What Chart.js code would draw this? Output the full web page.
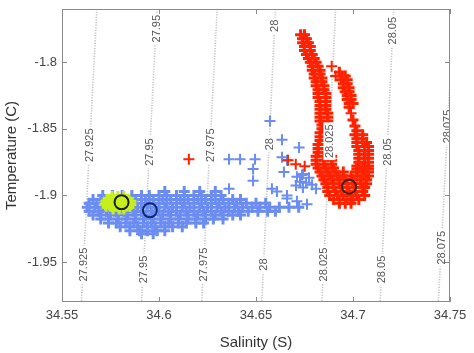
<!DOCTYPE html>
<html>
<head>
<meta charset="utf-8">
<script src="https://cdn.jsdelivr.net/npm/chart.js@4/dist/chart.umd.min.js"></script>
<style>
  html, body { margin: 0; padding: 0; background: #fff; }
  canvas { display: block; }
</style>
</head>
<body>
<canvas id="tsChart" width="474" height="353"></canvas>
<script>
// axis ticks
const xTicks = [34.55, 34.6, 34.65, 34.7, 34.75];
const xTickLabels = ['34.55', '34.6', '34.65', '34.7', '34.75'];
const yTicks = [-1.95, -1.9, -1.85, -1.8];
const yTickLabels = ['-1.95', '-1.9', '-1.85', '-1.8'];

// density contours (sigma), read where they leave the top and bottom of the box
const contourLevels = ['27.925', '27.95', '27.975', '28', '28.025', '28.05', '28.075'];
const contourTopS = [34.568, 34.599, 34.630, 34.660, 34.691, 34.721, 34.752];
const contourBottomS = [34.560, 34.591, 34.622, 34.653, 34.684, 34.714, 34.744];
const contourTopT = -1.76;
const contourBottomT = -1.98;
const contourLabelT = [
    [-1.8623, -1.9519],
    [-1.7748, -1.8674, -1.9556],
    [-1.8623, -1.9519],
    [-1.7726, -1.8615, -1.9519],
    [-1.8593, -1.9519],
    [-1.7763, -1.8674, -1.9556],
    [-1.8482, -1.9393]
];

// blue casts: main blob, row by row (temperature, salinities)
const blueRowT = [-1.8971, -1.9, -1.903, -1.9059, -1.9088, -1.9118, -1.9147, -1.9176, -1.9206, -1.9235, -1.9265, -1.9287];
const blueRowS = [
    [34.603, 34.613, 34.621, 34.629],
    [34.571, 34.576, 34.581, 34.586, 34.591, 34.595, 34.600, 34.604, 34.609, 34.613, 34.618, 34.622, 34.627, 34.632],
    [34.566, 34.570, 34.575, 34.579, 34.584, 34.588, 34.593, 34.597, 34.602, 34.606, 34.611, 34.615, 34.620, 34.624, 34.629, 34.633, 34.638, 34.642],
    [34.564, 34.568, 34.573, 34.577, 34.582, 34.586, 34.591, 34.595, 34.600, 34.604, 34.609, 34.613, 34.618, 34.622, 34.627, 34.631, 34.636, 34.640, 34.645, 34.650, 34.655],
    [34.563, 34.567, 34.571, 34.576, 34.580, 34.585, 34.589, 34.594, 34.598, 34.603, 34.607, 34.612, 34.616, 34.621, 34.625, 34.630, 34.634, 34.639, 34.643, 34.648, 34.652, 34.657, 34.662, 34.667, 34.672],
    [34.564, 34.569, 34.573, 34.578, 34.582, 34.587, 34.591, 34.596, 34.600, 34.605, 34.609, 34.614, 34.618, 34.623, 34.627, 34.632, 34.636, 34.641, 34.646, 34.651, 34.656, 34.660],
    [34.566, 34.570, 34.575, 34.579, 34.584, 34.588, 34.593, 34.597, 34.602, 34.606, 34.611, 34.615, 34.620, 34.624, 34.629, 34.633, 34.638, 34.642],
    [34.570, 34.574, 34.579, 34.583, 34.588, 34.592, 34.597, 34.601, 34.606, 34.610, 34.615, 34.619, 34.624, 34.628, 34.633],
    [34.574, 34.578, 34.583, 34.587, 34.592, 34.596, 34.601, 34.605, 34.610, 34.614, 34.619, 34.623],
    [34.580, 34.585, 34.589, 34.594, 34.598, 34.603, 34.607, 34.612],
    [34.585, 34.590, 34.594, 34.599, 34.603],
    [34.591, 34.597]
];
// blue scattered samples [S, T]
const blueExtra = [
    [34.6361, -1.8728], [34.6418, -1.8728], [34.6495, -1.8728], [34.6485, -1.8801], [34.6485, -1.889],
    [34.6572, -1.8441], [34.6634, -1.8581], [34.6722, -1.864], [34.6634, -1.8713], [34.666, -1.8735],
    [34.6644, -1.8824], [34.6737, -1.8846], [34.6582, -1.8949], [34.6608, -1.8971], [34.666, -1.9],
    [34.6361, -1.8949],
    [34.6711, -1.886], [34.6742, -1.8838], [34.6773, -1.8868], [34.6727, -1.8897], [34.6758, -1.8904],
    [34.6789, -1.8919], [34.6809, -1.8949], [34.6742, -1.8941], [34.6706, -1.8926],
    [34.6763, -1.9066], [34.6711, -1.9044], [34.666, -1.9022]
];

// red casts: two branches and the bottom hook, row by row
const redRowT = [
    -1.7794, -1.7824, -1.7853, -1.7882, -1.7912, -1.7941, -1.7971, -1.8, -1.8029, -1.8059,
    -1.8074, -1.8088, -1.8103, -1.8118, -1.8132, -1.8147, -1.8162, -1.8176, -1.8191, -1.8206,
    -1.8221, -1.8235, -1.825, -1.8265, -1.8279, -1.8294, -1.8309, -1.8324, -1.8338, -1.8353,
    -1.8382, -1.8412, -1.8434, -1.8441, -1.8471, -1.8478, -1.85, -1.8515, -1.8529, -1.8544,
    -1.8559, -1.8574, -1.8588, -1.8603, -1.8618, -1.8632, -1.8647, -1.8662, -1.8676, -1.8691,
    -1.8706, -1.8721, -1.8735, -1.875, -1.8765, -1.8779, -1.8794, -1.8801, -1.8824, -1.8853,
    -1.8882, -1.8912, -1.8941, -1.8971, -1.9, -1.903, -1.9059
];
const redRowS = [
    [34.673, 34.675], [34.674, 34.676], [34.674, 34.677], [34.675, 34.678], [34.675, 34.678],
    [34.676, 34.679], [34.677, 34.680], [34.678, 34.681], [34.679, 34.682], [34.679, 34.683],
    [34.693], [34.680, 34.683], [34.694, 34.696], [34.680, 34.684], [34.694, 34.697],
    [34.681, 34.684], [34.695, 34.697], [34.681, 34.685], [34.695, 34.698], [34.682, 34.685],
    [34.696, 34.698], [34.682, 34.686], [34.697, 34.699], [34.682, 34.686], [34.697, 34.699],
    [34.683, 34.686], [34.698, 34.700], [34.683, 34.686], [34.698], [34.683, 34.686],
    [34.683, 34.687], [34.683, 34.687], [34.700], [34.683, 34.687], [34.684, 34.687],
    [34.701], [34.684, 34.687], [34.702], [34.683, 34.687], [34.701, 34.705],
    [34.683, 34.687], [34.702, 34.705], [34.683, 34.686], [34.702, 34.705, 34.707], [34.682, 34.686],
    [34.702, 34.706, 34.708], [34.682, 34.686], [34.703, 34.706, 34.708], [34.682, 34.686], [34.703, 34.706, 34.708],
    [34.681, 34.685, 34.689], [34.703, 34.706, 34.708], [34.681, 34.685, 34.689], [34.703, 34.706, 34.708], [34.681, 34.685, 34.689],
    [34.702, 34.706, 34.708], [34.682, 34.686, 34.690], [34.702, 34.705, 34.708],
    [34.683, 34.687, 34.691, 34.695, 34.702, 34.705, 34.708],
    [34.684, 34.688, 34.692, 34.695, 34.699, 34.702, 34.706, 34.708],
    [34.685, 34.689, 34.693, 34.696, 34.700, 34.704, 34.707],
    [34.686, 34.690, 34.693, 34.697, 34.700, 34.704, 34.707],
    [34.687, 34.690, 34.694, 34.697, 34.701, 34.705, 34.706],
    [34.687, 34.691, 34.694, 34.698, 34.701, 34.705],
    [34.688, 34.692, 34.695, 34.699, 34.702, 34.706],
    [34.690, 34.693, 34.697, 34.700, 34.703],
    [34.693, 34.696, 34.699]
];
// red scattered samples [S, T]
const redExtra = [
    [34.6154, -1.8728], [34.6665, -1.8735], [34.6705, -1.8765], [34.6751, -1.878],
    [34.689, -1.8029], [34.691, -1.8103], [34.699, -1.8382]
];

// green cast, row by row
const greenRowT = [-1.9, -1.9022, -1.9044, -1.9066, -1.9088, -1.911];
const greenRowS = [
    [34.5758, 34.5788, 34.5819],
    [34.5732, 34.5763, 34.5794, 34.5824, 34.5845],
    [34.5721, 34.5752, 34.5783, 34.5814, 34.5845, 34.586],
    [34.5716, 34.5747, 34.5778, 34.5809, 34.584, 34.586],
    [34.5727, 34.5758, 34.5788, 34.5819, 34.585],
    [34.5763, 34.5794, 34.5819]
];

// group means (green, blue, red)
const meanS = [34.5807, 34.5953, 34.698];
const meanT = [-1.9051, -1.9111, -1.8934];
const meanEdge = ['#1c1c1c', '#10286e', '#3a2626'];

const rowsToPoints = (rowT, rowS) => rowT.flatMap((t, i) => rowS[i].map(s => ({ x: s, y: t })));
const pairsToPoints = pairs => pairs.map(p => ({ x: p[0], y: p[1] }));

const FONT = '"Liberation Sans", Arial, sans-serif';
const BLUE = '#6b8cf0';
const RED = '#ff2200';

const contourDatasets = contourLevels.map((lev, i) => ({
    label: lev,
    data: [{ x: contourTopS[i], y: contourTopT }, { x: contourBottomS[i], y: contourBottomT }],
    showLine: true,
    borderColor: '#c4c4c4',
    borderWidth: 1.6,
    borderDash: [1.2, 1.4],
    pointRadius: 0,
    order: 10
}));

const crossSet = (label, data, color, radius, width, order) => ({
    label, data,
    pointStyle: 'cross',
    pointRadius: radius,
    pointBorderWidth: width,
    borderColor: color,
    order
});

// contour labels, box frame and inward ticks
const tsFrame = {
    id: 'tsFrame',
    afterDatasetsDraw(chart) {
        const { ctx, chartArea: a, scales: { x, y } } = chart;
        ctx.save();
        ctx.beginPath();
        ctx.rect(a.left, a.top, a.right - a.left, a.bottom - a.top);
        ctx.clip();
        ctx.font = '11px ' + FONT;
        ctx.textAlign = 'center';
        ctx.textBaseline = 'middle';
        contourLevels.forEach((lev, i) => {
            contourLabelT[i].forEach(t => {
                const f = (contourTopT - t) / (contourTopT - contourBottomT);
                const s = contourTopS[i] + f * (contourBottomS[i] - contourTopS[i]);
                ctx.save();
                ctx.translate(x.getPixelForValue(s), y.getPixelForValue(t));
                ctx.rotate(-Math.PI / 2);
                const w = ctx.measureText(lev).width;
                ctx.fillStyle = '#fff';
                ctx.fillRect(-w / 2 - 2, -6, w + 4, 12);
                ctx.fillStyle = '#555';
                ctx.fillText(lev, 0, 0.5);
                ctx.restore();
            });
        });
        ctx.restore();

        ctx.save();
        ctx.strokeStyle = '#8a8a8a';
        ctx.lineWidth = 1;
        ctx.strokeRect(a.left + 0.5, a.top + 0.5, a.right - a.left - 1, a.bottom - a.top - 1);
        ctx.beginPath();
        xTicks.forEach(v => {
            const px = Math.round(x.getPixelForValue(v)) + 0.5;
            ctx.moveTo(px, a.bottom); ctx.lineTo(px, a.bottom - 5);
            ctx.moveTo(px, a.top); ctx.lineTo(px, a.top + 5);
        });
        yTicks.forEach(v => {
            const py = Math.round(y.getPixelForValue(v)) + 0.5;
            ctx.moveTo(a.left, py); ctx.lineTo(a.left + 5, py);
            ctx.moveTo(a.right, py); ctx.lineTo(a.right - 5, py);
        });
        ctx.stroke();
        ctx.restore();
    }
};

new Chart(document.getElementById('tsChart'), {
    type: 'scatter',
    data: {
        datasets: [
            ...contourDatasets,
            crossSet('blue', rowsToPoints(blueRowT, blueRowS), BLUE, 5.5, 3, 6),
            crossSet('blue sparse', pairsToPoints(blueExtra), BLUE, 5.5, 2, 5),
            crossSet('red', rowsToPoints(redRowT, redRowS), RED, 5.5, 3, 4),
            crossSet('red sparse', pairsToPoints(redExtra), RED, 5.5, 2, 3),
            crossSet('green', rowsToPoints(greenRowT, greenRowS), '#c6f01c', 4.5, 3, 2),
            {
                label: 'means',
                data: meanS.map((s, i) => ({ x: s, y: meanT[i] })),
                pointStyle: 'circle',
                pointRadius: 7,
                pointBorderWidth: 2,
                backgroundColor: 'rgba(0,0,0,0)',
                borderColor: meanEdge,
                order: 1
            }
        ]
    },
    options: {
        responsive: false,
        animation: false,
        events: [],
        layout: { padding: { top: 0, right: 24, left: 0, bottom: 0 } },
        plugins: { legend: { display: false }, tooltip: { enabled: false } },
        scales: {
            x: {
                type: 'linear',
                min: 34.55,
                max: 34.75,
                afterBuildTicks: s => { s.ticks = xTicks.map(v => ({ value: v })); },
                afterFit: s => { s.height = 51; s.paddingLeft = 0; s.paddingRight = 0; },
                ticks: {
                    callback: (v, i) => xTickLabels[i],
                    font: { family: FONT, size: 13 },
                    color: '#444',
                    padding: 6,
                    maxRotation: 0
                },
                grid: { display: false, drawTicks: false },
                border: { display: false },
                title: {
                    display: true,
                    text: 'Salinity (S)',
                    font: { family: FONT, size: 15 },
                    color: '#333',
                    padding: { top: 0, bottom: 1 }
                }
            },
            y: {
                type: 'linear',
                min: -1.98,
                max: -1.76,
                afterBuildTicks: s => { s.ticks = yTicks.map(v => ({ value: v })); },
                afterFit: s => { s.width = 62; s.paddingTop = 0; s.paddingBottom = 0; },
                ticks: {
                    callback: (v, i) => yTickLabels[i],
                    font: { family: FONT, size: 13 },
                    color: '#444',
                    padding: 5
                },
                grid: { display: false, drawTicks: false },
                border: { display: false },
                title: {
                    display: true,
                    text: 'Temperature (C)',
                    font: { family: FONT, size: 15 },
                    color: '#333',
                    padding: { top: 3, bottom: 0 }
                }
            }
        }
    },
    plugins: [tsFrame]
});
</script>
</body>
</html>
